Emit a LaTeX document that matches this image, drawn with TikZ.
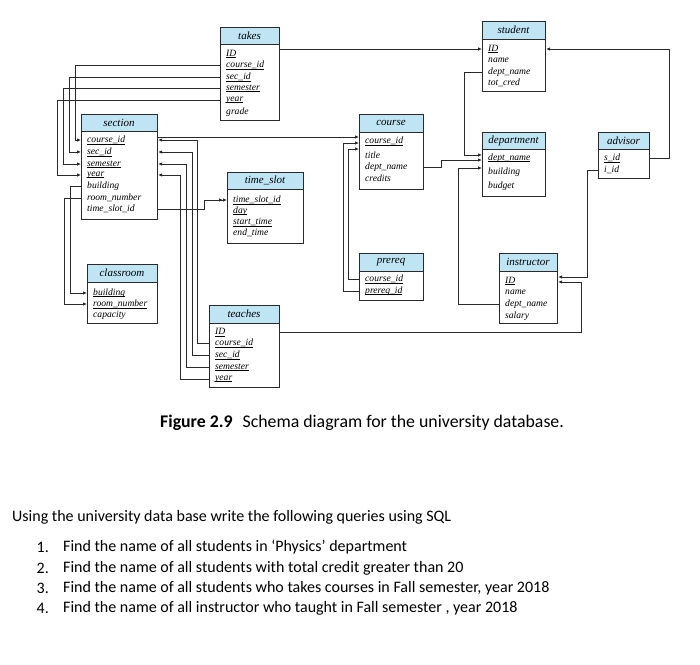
\documentclass[tikz,border=0pt]{standalone}
\usepackage{fontspec}
\setmainfont{Liberation Serif}
\newfontfamily\calfont{Carlito}
\usetikzlibrary{arrows.meta,calc}
\definecolor{hdr}{HTML}{BFE4F4}
\definecolor{ln}{HTML}{2A2A2A}
\newcommand\ulx[1]{\setbox0\hbox{#1}\rlap{\rule[-1.4pt]{\wd0}{0.35pt}}\box0}
\tikzset{
  boxline/.style={draw=ln,line width=1.1pt},
  fld/.style={anchor=west,inner sep=0pt,font=\fontsize{9.6}{10}\selectfont\itshape},
  ttl/.style={inner sep=0pt,font=\fontsize{11}{12}\selectfont\itshape},
  arr/.style={draw=ln,line width=0.9pt,-{Latex[length=4pt,width=3.5pt]}},
  darr/.style={draw=ln,line width=0.9pt,-{Latex[length=4pt,width=3.5pt]Latex[length=4pt,width=3.5pt]}},
  txt/.style={anchor=west,inner sep=0pt,font=\calfont\fontsize{16}{18}\selectfont}
}
% name, x1, y1, x2, y2, yheader, title
\newcommand\tbox[7]{%
  \fill[hdr] (#2,#3) rectangle (#4,#6);
  \node[boxline,anchor=north west,inner sep=0pt,minimum width={(#4-#2)*1pt},minimum height={(#5-#3)*1pt}] (#1) at (#2,#3) {};
  \draw[ln,line width=0.8pt] (#2,#6) -- (#4,#6);
  \node[ttl] (#1-title) at ({(#2+#4)/2},{(#3+#6)/2}) {#7};
}
\newcommand\fl[4]{\node[fld] (#1) at (#2,#3) {#4};}
\begin{document}
\begin{tikzpicture}[x=1pt,y=-1pt]
\useasboundingbox[fill=white] (0,0) rectangle (700,664);
% tables
\tbox{takes}{220}{27}{279}{120}{44}{takes}
\fl{takes-ID}{226}{54}{\ulx{ID}}
\fl{takes-cid}{226}{65}{\ulx{course\_id}}
\fl{takes-sid}{226}{77}{\ulx{sec\_id}}
\fl{takes-sem}{226}{88}{\ulx{semester}}
\fl{takes-yr}{226}{100}{\ulx{year}}
\fl{takes-gr}{226}{112}{grade}

\tbox{section}{81}{114}{157}{219}{131}{section}
\fl{section-cid}{87}{140}{\ulx{course\_id}}
\fl{section-sid}{87}{152}{\ulx{sec\_id}}
\fl{section-sem}{87}{164}{\ulx{semester}}
\fl{section-yr}{87}{175}{\ulx{year}}
\fl{section-bld}{87}{186}{building}
\fl{section-rm}{87}{198}{room\_number}
\fl{section-ts}{87}{209}{time\_slot\_id}

\tbox{time_slot}{227}{172}{303}{243}{189}{time\_slot}
\fl{time_slot-ts}{233}{200}{\ulx{time\_slot\_id}}
\fl{time_slot-day}{233}{211}{\ulx{day}}
\fl{time_slot-st}{233}{222}{\ulx{start\_time}}
\fl{time_slot-et}{233}{233}{end\_time}

\tbox{classroom}{87}{264}{157}{323}{282}{classroom}
\fl{classroom-bld}{93}{293}{\ulx{building}}
\fl{classroom-rm}{93}{304}{\ulx{room\_number}}
\fl{classroom-cap}{93}{315}{capacity}

\tbox{teaches}{209}{305}{279}{387}{323}{teaches}
\fl{teaches-ID}{215}{332}{\ulx{ID}}
\fl{teaches-cid}{215}{343}{\ulx{course\_id}}
\fl{teaches-sid}{215}{355}{\ulx{sec\_id}}
\fl{teaches-sem}{215}{367}{\ulx{semester}}
\fl{teaches-yr}{215}{379}{\ulx{year}}

\tbox{student}{482}{21}{545}{91}{39}{student}
\fl{student-ID}{488}{49}{\ulx{ID}}
\fl{student-name}{488}{60}{name}
\fl{student-dept}{488}{72}{dept\_name}
\fl{student-tc}{488}{83}{tot\_cred}

\tbox{course}{359}{114}{423}{189}{132}{course}
\fl{course-cid}{365}{141}{\ulx{course\_id}}
\fl{course-title}{365}{155}{title}
\fl{course-dept}{365}{167}{dept\_name}
\fl{course-cr}{365}{178}{credits}

\tbox{department}{482}{132}{545}{196}{149}{department}
\fl{department-dn}{488}{158}{\ulx{dept\_name}}
\fl{department-bld}{488}{172}{building}
\fl{department-bud}{488}{186}{budget}

\tbox{advisor}{598}{132}{649}{178}{149}{advisor}
\fl{advisor-sid}{604}{158}{\ulx{s\_id}}
\fl{advisor-iid}{604}{170}{i\_id}

\tbox{prereq}{359}{253}{423}{300}{271}{prereq}
\fl{prereq-cid}{365}{279}{\ulx{course\_id}}
\fl{prereq-pid}{365}{291}{\ulx{prereq\_id}}

\tbox{instructor}{499}{253}{557}{323}{271}{instructor}
\fl{instructor-ID}{505}{281}{\ulx{ID}}
\fl{instructor-name}{505}{292}{name}
\fl{instructor-dept}{505}{304}{dept\_name}
\fl{instructor-sal}{505}{316}{salary}

% connectors
\draw[arr] (takes.east |- student-ID) -- (student.west |- student-ID);
\draw[arr] (takes.west |- takes-cid) -- ++(-145,0) |- (section.west |- section-cid);
\draw[arr] (takes.west |- takes-sid) -- ++(-151,0) |- (section.west |- section-sid);
\draw[arr] (takes.west |- takes-sem) -- ++(-157,0) |- (section.west |- section-sem);
\draw[arr] (takes.west |- takes-yr) -- ++(-163,0) |- (section.west |- section-yr);
\draw[arr] (section.west |- section-bld) -- ++(-11,0) |- (classroom.west |- classroom-bld);
\draw[arr] (section.west |- section-rm) -- ++(-17,0) |- (classroom.west |- classroom-rm);
\draw[darr] (section.east |- section-ts) -- ++(46,0) |- (time_slot.west |- time_slot-ts);
\draw[arr] (teaches.west |- teaches-cid) -- ++(-12,0) |- (section.east |- section-cid);
\draw[arr] (teaches.west |- teaches-sid) -- ++(-17,0) |- (section.east |- section-sid);
\draw[arr] (teaches.west |- teaches-sem) -- ++(-23,0) |- (section.east |- section-sem);
\draw[arr] (teaches.west |- teaches-yr) -- ++(-29,0) |- (section.east |- section-yr);
\draw[arr] ($(section.east |- section-cid)+(0,-3)$) -- ($(course.west |- section-cid)+(0,-3)$);
\draw[arr] (prereq.west |- prereq-cid) -- ++(-11,0) |- ($(course.west |- course-cid)+(0,8)$);
\draw[arr] (prereq.west |- prereq-pid) -- ++(-16,0) |- ($(course.west |- course-cid)+(0,2)$);
\draw[arr] (course.east |- course-dept) -- ++(17,0) |- ($(department.west |- department-dn)+(0,2)$);
\draw[arr] (student.west |- student-dept) -- ++(-18,0) |- ($(department.west |- department-dn)+(0,-3)$);
\draw[arr] (instructor.west |- instructor-dept) -- ++(-41,0) |- ($(department.west |- department-dn)+(0,10)$);
\draw[arr] (advisor.east |- advisor-sid) -- ++(19,0) |- (student.east |- student-ID);
\draw[arr] (advisor.west |- advisor-iid) -- ++(-11,0) |- ($(instructor.east |- instructor-ID)+(0,-4)$);
\draw[arr] (teaches.east |- teaches-ID) -- ++(301,0) |- ($(instructor.east |- instructor-ID)+(0,1)$);

% caption and text
\node[txt,font=\calfont\fontsize{17.8}{19}\selectfont] (cap) at (160,423) {\textbf{Figure 2.9}\hspace{10pt}Schema diagram for the university database.};
\node[txt] (intro) at (12,517) {Using the university data base write the following queries using SQL};
\node[txt,anchor=east] (n1) at (49,547) {1.};
\node[txt] (q1) at (63,547) {Find the name of all students in ‘Physics’ department};
\node[txt,anchor=east] (n2) at (49,568) {2.};
\node[txt] (q2) at (63,568) {Find the name of all students with total credit greater than 20};
\node[txt,anchor=east] (n3) at (49,588) {3.};
\node[txt] (q3) at (63,588) {Find the name of all students who takes courses in Fall semester, year 2018};
\node[txt,anchor=east] (n4) at (49,608) {4.};
\node[txt] (q4) at (63,608) {Find the name of all instructor who taught in Fall semester , year 2018};
\end{tikzpicture}
\end{document}
